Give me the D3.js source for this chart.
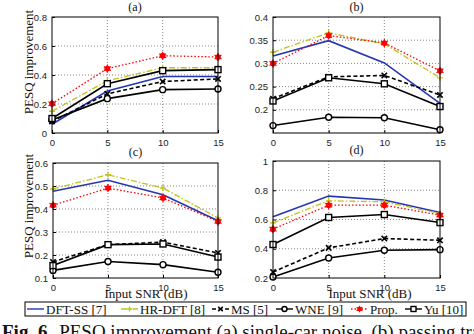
<!DOCTYPE html>
<html>
<head>
<meta charset="utf-8">
<script src="https://cdn.jsdelivr.net/npm/d3@7/dist/d3.min.js"></script>
<style>
  body { margin: 0; background: #fff; }
  svg { display: block; }
  .tick-label { font-family: "Liberation Sans", Arial, sans-serif; font-size: 9.5px; fill: #222; }
  .serif { font-family: "Liberation Serif", "Times New Roman", serif; fill: #111; }
</style>
</head>
<body>
<script>
// x values (input SNR, dB)
var snr = [0, 5, 10, 15];
var methods = ["DFT-SS [7]", "HR-DFT [8]", "MS [5]", "WNE [9]", "Prop.", "Yu [10]"];

// PESQ improvement per panel, rows in the order of methods
var valuesA = [
  [0.06, 0.29, 0.39, 0.39],
  [0.15, 0.36, 0.45, 0.45],
  [0.08, 0.27, 0.355, 0.373],
  [0.09, 0.237, 0.299, 0.303],
  [0.202, 0.444, 0.533, 0.524],
  [0.10, 0.34, 0.43, 0.437]
];
var valuesB = [
  [0.316, 0.349, 0.301, 0.214],
  [0.324, 0.366, 0.342, 0.269],
  [0.224, 0.271, 0.274, 0.232],
  [0.166, 0.184, 0.183, 0.157],
  [0.300, 0.360, 0.344, 0.284],
  [0.219, 0.269, 0.256, 0.207]
];
var valuesC = [
  [0.477, 0.525, 0.462, 0.349],
  [0.487, 0.549, 0.491, 0.361],
  [0.170, 0.245, 0.256, 0.209],
  [0.133, 0.172, 0.158, 0.125],
  [0.416, 0.491, 0.448, 0.346],
  [0.154, 0.245, 0.248, 0.191]
];
var valuesD = [
  [0.618, 0.760, 0.733, 0.648],
  [0.577, 0.728, 0.721, 0.641],
  [0.241, 0.406, 0.470, 0.458],
  [0.207, 0.337, 0.390, 0.394],
  [0.534, 0.698, 0.698, 0.630],
  [0.429, 0.614, 0.634, 0.579]
];

var yTicksA = [0, 0.2, 0.4, 0.6, 0.8];
var yTicksB = [0.2, 0.25, 0.3, 0.35, 0.4];
var yTicksC = [0.1, 0.2, 0.3, 0.4, 0.5, 0.6];
var yTicksD = [0.2, 0.4, 0.6, 0.8, 1];
var xTicks = [0, 5, 10, 15];

// line styles for each method
var colors = ["#2636b0", "#c2c21a", "#000", "#000", "#f00", "#000"];
var dashes = [null, "6,2,1.5,2", "4,2.5", null, "1.5,2", null];
var markerKinds = ["none", "plus", "cross", "circle", "star", "square"];

var width = 474, height = 334;
var svg = d3.select("body").append("svg").attr("width", width).attr("height", height);

function marker(g, kind, x, y, color, s) {
  s = s || 3;
  if (kind === "plus") {
    g.append("path").attr("d", "M" + (x - s) + "," + y + "H" + (x + s) + "M" + x + "," + (y - s) + "V" + (y + s))
      .attr("stroke", color).attr("stroke-width", 1.3).attr("fill", "none");
  } else if (kind === "cross") {
    g.append("path").attr("d", "M" + (x - s * 0.9) + "," + (y - s * 0.9) + "L" + (x + s * 0.9) + "," + (y + s * 0.9) + "M" + (x - s * 0.9) + "," + (y + s * 0.9) + "L" + (x + s * 0.9) + "," + (y - s * 0.9))
      .attr("stroke", color).attr("stroke-width", 1.6).attr("fill", "none");
  } else if (kind === "circle") {
    g.append("circle").attr("cx", x).attr("cy", y).attr("r", s)
      .attr("stroke", color).attr("stroke-width", 1.4).attr("fill", "#fff");
  } else if (kind === "star") {
    g.append("circle").attr("cx", x).attr("cy", y).attr("r", s * 0.95).attr("fill", color);
    g.append("path").attr("d", d3.symbol(d3.symbolAsterisk, 45 * (s / 3) * (s / 3))()).attr("transform", "translate(" + x + "," + y + ")")
      .attr("stroke", color).attr("stroke-width", 1.2).attr("fill", "none");
  } else if (kind === "square") {
    g.append("rect").attr("x", x - s).attr("y", y - s).attr("width", 2 * s).attr("height", 2 * s)
      .attr("stroke", color).attr("stroke-width", 1.4).attr("fill", "#fff");
  }
}

function panel(box, values, yDomain, yTicks, title, titleY) {
  var x = d3.scaleLinear().domain([0, 15]).range([box.left, box.right]);
  var y = d3.scaleLinear().domain(yDomain).range([box.bottom, box.top]);
  var g = svg.append("g");

  // dotted grid
  g.selectAll(".gx").data(xTicks.slice(1, -1)).enter().append("line")
    .attr("x1", function (d) { return x(d); }).attr("x2", function (d) { return x(d); })
    .attr("y1", box.top).attr("y2", box.bottom)
    .attr("stroke", "#555").attr("stroke-width", 0.7).attr("stroke-dasharray", "1,2");
  g.selectAll(".gy").data(yTicks.filter(function (t) { return y(t) > box.top + 1 && y(t) < box.bottom - 1; })).enter().append("line")
    .attr("x1", box.left).attr("x2", box.right)
    .attr("y1", function (d) { return y(d); }).attr("y2", function (d) { return y(d); })
    .attr("stroke", "#555").attr("stroke-width", 0.7).attr("stroke-dasharray", "1,2");

  // axes with inside ticks
  var xAxis = d3.axisBottom(x).tickValues(xTicks).tickSize(-3).tickPadding(6);
  var yAxis = d3.axisLeft(y).tickValues(yTicks).tickSize(-3).tickPadding(5)
    .tickFormat(function (d) { return String(+d.toFixed(2)); });
  var gx = g.append("g").attr("transform", "translate(0," + box.bottom + ")").call(xAxis);
  var gy = g.append("g").attr("transform", "translate(" + box.left + ",0)").call(yAxis);
  [gx, gy].forEach(function (a) {
    a.select(".domain").remove();
    a.selectAll("line").attr("stroke", "#000");
    a.selectAll("text").attr("class", "tick-label").attr("fill", null);
  });

  // series
  var line = d3.line().x(function (d, i) { return x(snr[i]); }).y(function (d) { return y(d); });
  values.forEach(function (vals, k) {
    g.append("path").datum(vals).attr("d", line)
      .attr("fill", "none").attr("stroke", colors[k])
      .attr("stroke-width", k === 1 || k === 4 ? 1.3 : 1.6)
      .attr("stroke-dasharray", dashes[k]);
    vals.forEach(function (v, i) { marker(g, markerKinds[k], x(snr[i]), y(v), colors[k]); });
  });

  // box
  g.append("rect").attr("x", box.left).attr("y", box.top)
    .attr("width", box.right - box.left).attr("height", box.bottom - box.top)
    .attr("fill", "none").attr("stroke", "#000").attr("stroke-width", 1);

  g.append("text").attr("class", "serif").attr("x", (box.left + box.right) / 2).attr("y", titleY)
    .attr("text-anchor", "middle").attr("font-size", 12).text(title);
}

panel({left: 52, right: 218, top: 17, bottom: 133}, valuesA, [0, 0.8], yTicksA, "(a)", 11);
panel({left: 273, right: 440, top: 17, bottom: 133}, valuesB, [0.15, 0.4], yTicksB, "(b)", 11);
panel({left: 53, right: 218, top: 163, bottom: 278}, valuesC, [0.1, 0.6], yTicksC, "(c)", 156);
panel({left: 273, right: 440, top: 161, bottom: 278}, valuesD, [0.2, 1], yTicksD, "(d)", 154);

// axis labels
[62, 206].forEach(function (cy) {
  svg.append("text").attr("class", "serif").attr("font-size", 13)
    .attr("transform", "translate(33," + cy + ") rotate(-90)")
    .attr("text-anchor", "middle").text("PESQ improvement");
});
[146, 370].forEach(function (cx) {
  svg.append("text").attr("class", "serif").attr("font-size", 13)
    .attr("x", cx).attr("y", 298).attr("text-anchor", "middle").text("Input SNR (dB)");
});

// legend
var legend = svg.append("g");
legend.append("rect").attr("x", 25).attr("y", 302).attr("width", 441).attr("height", 14)
  .attr("fill", "#fff").attr("stroke", "#000").attr("stroke-width", 1);
var legendX = [27, 121, 212, 276, 351, 405];
methods.forEach(function (m, k) {
  var lx = legendX[k], ly = 309;
  legend.append("line").attr("x1", lx).attr("x2", lx + 17).attr("y1", ly).attr("y2", ly)
    .attr("stroke", colors[k]).attr("stroke-width", 1.4).attr("stroke-dasharray", dashes[k]);
  marker(legend, markerKinds[k], lx + 8.5, ly, colors[k], 2.5);
  legend.append("text").attr("class", "serif").attr("font-size", 13)
    .attr("x", lx + 19).attr("y", 313.5).text(m);
});

// caption (cut by the bottom edge)
var cap = svg.append("text").attr("class", "serif").attr("font-size", 19).attr("x", 2).attr("y", 338);
cap.append("tspan").attr("font-weight", "bold").text("Fig. 6.");
cap.append("tspan").attr("dx", 7).text("PESQ improvement (a) single-car noise, (b) passing train noise, (c) ...");
</script>
</body>
</html>
